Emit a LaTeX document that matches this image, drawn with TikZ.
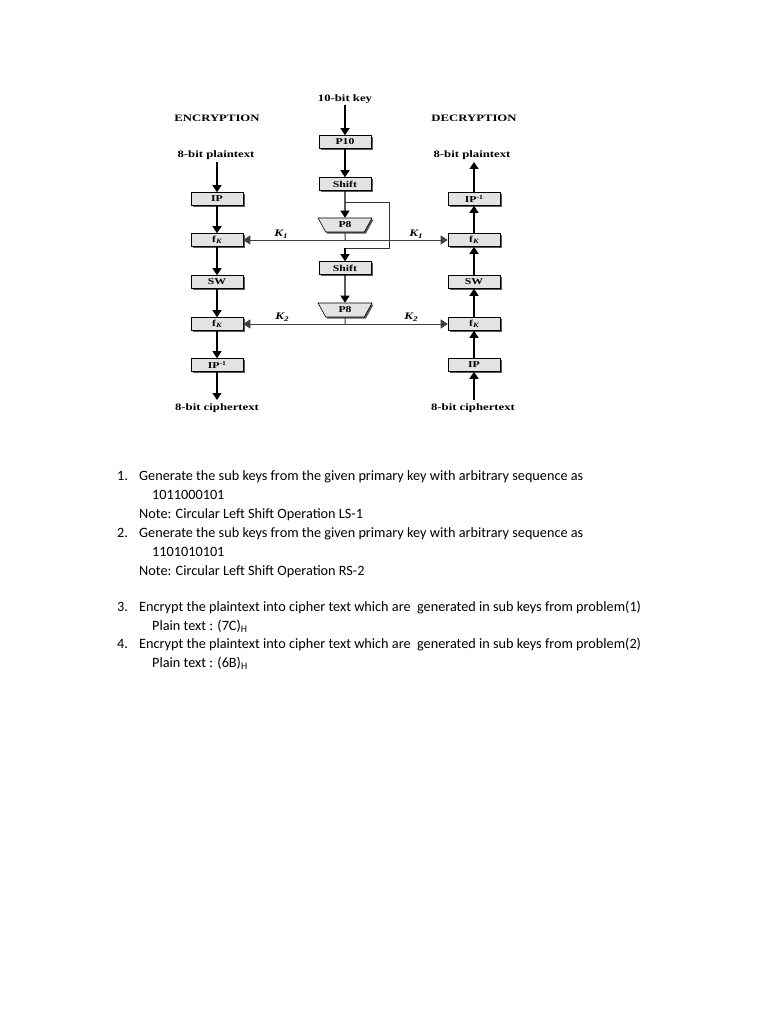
\documentclass[tikz,border=0pt]{standalone}
\usepackage{fontspec}
\setmainfont{Carlito}
\newfontfamily\diagfont[FakeStretch=1.3]{Liberation Serif}
\usetikzlibrary{arrows.meta,shapes.geometric,shadows}
\tikzset{
  blk/.style={draw=black, line width=0.6pt, fill=gray!22, minimum width=52pt, minimum height=13pt, inner sep=0pt,
    font=\diagfont\fontsize{9}{10}\selectfont\bfseries,
    drop shadow={shadow xshift=1.6pt, shadow yshift=-1.6pt, fill=black!65, opacity=1}},
  trap/.style={blk, trapezium, shape border rotate=180, trapezium angle=67, minimum width=54pt, minimum height=14pt, trapezium stretches=true},
  lbl/.style={font=\diagfont\fontsize{9.8}{11}\selectfont\bfseries, inner sep=1pt},
  klbl/.style={font=\diagfont\fontsize{10}{11}\selectfont\bfseries\itshape, inner sep=0pt},
  arr/.style={line width=1.3pt, -{Triangle[width=9pt,length=7pt]}},
  kline/.style={line width=0.9pt, draw=black!75, -{Triangle[width=9pt,length=7pt]}},
  plain/.style={line width=1pt, draw=black!80},
  txt/.style={font=\fontsize{14.25}{16}\selectfont, anchor=base west, inner sep=0pt}
}
\newcommand{\ksub}[1]{\textit{K}\raisebox{-1.5pt}{\fontsize{7}{8}\selectfont #1}}
\newcommand{\fk}{f\raisebox{-1.5pt}{\fontsize{6.5}{7}\selectfont\itshape K}}
\begin{document}
\begin{tikzpicture}[x=1pt,y=-1pt]
\useasboundingbox[fill=white] (0,0) rectangle (768,1024);
% headings
\node[lbl] (enc) at (217,118) {ENCRYPTION};
\node[lbl] (dec) at (474,118) {DECRYPTION};
\node[lbl] (key) at (345,99) {10-bit key};
\node[lbl] (ptL) at (216,155) {8-bit plaintext};
\node[lbl] (ptR) at (472,155) {8-bit plaintext};
\node[lbl] (ctL) at (217,408) {8-bit ciphertext};
\node[lbl] (ctR) at (473,408) {8-bit ciphertext};
% left column
\node[blk] (ipL) at (217,199) {IP};
\node[blk] (fk1L) at (217,240) {\fk};
\node[blk] (swL) at (217,282) {SW};
\node[blk] (fk2L) at (217,324) {\fk};
\node[blk] (ipiL) at (217,365) {IP\raisebox{2.5pt}{\fontsize{6}{7}\selectfont -1}};
% middle column
\node[blk] (p10) at (345,142) {P10};
\node[blk] (sh1) at (345,184) {Shift};
\node[trap] (p8a) at (345,225) {P8};
\node[blk] (sh2) at (345,268) {Shift};
\node[trap] (p8b) at (345,310) {P8};
% right column
\node[blk] (ipiR) at (474,199) {IP\raisebox{2.5pt}{\fontsize{6}{7}\selectfont -1}};
\node[blk] (fk1R) at (474,240) {\fk};
\node[blk] (swR) at (474,282) {SW};
\node[blk] (fk2R) at (474,324) {\fk};
\node[blk] (ipR) at (474,365) {IP};
% coordinates
\coordinate (j1) at (345,240);
\coordinate (j2) at (345,324);
\coordinate (l0) at (345,203);
\coordinate (lA) at (389,203);
\coordinate (lB) at (389,248);
\coordinate (lC) at (345,248);
\coordinate (ctLend) at (217,400);
\coordinate (ctRstart) at (474,400);
\coordinate (ptRend) at (474,162);
\coordinate (ptLstart) at (217,162);
% left arrows
\draw[arr] (ptLstart) -- (ipL.north);
\draw[arr] (ipL.south) -- (fk1L.north);
\draw[arr] (fk1L.south) -- (swL.north);
\draw[arr] (swL.south) -- (fk2L.north);
\draw[arr] (fk2L.south) -- (ipiL.north);
\draw[arr] (ipiL.south) -- (ctLend);
% middle arrows
\draw[arr] (key.south) -- (p10.north);
\draw[arr] (p10.south) -- (sh1.north);
\draw[arr] (sh1.south) -- (p8a.north);
\draw[plain] (l0) -- (lA) -- (lB) -- (lC);
\draw[arr] (lC) -- (sh2.north);
\draw[arr] (sh2.south) -- (p8b.north);
\draw[plain] (p8a.south) -- (j1);
\draw[plain] (p8b.south) -- (j2);
\draw[kline] (j1) -- (fk1L.east);
\draw[kline] (j1) -- (fk1R.west);
\draw[kline] (j2) -- (fk2L.east);
\draw[kline] (j2) -- (fk2R.west);
% right arrows
\draw[arr] (ctRstart) -- (ipR.south);
\draw[arr] (ipR.north) -- (fk2R.south);
\draw[arr] (fk2R.north) -- (swR.south);
\draw[arr] (swR.north) -- (fk1R.south);
\draw[arr] (fk1R.north) -- (ipiR.south);
\draw[arr] (ipiR.north) -- (ptRend);
% K labels
\node[klbl] (k1L) at (281,234) {\ksub{1}};
\node[klbl] (k1R) at (416,234) {\ksub{1}};
\node[klbl] (k2L) at (282,317) {\ksub{2}};
\node[klbl] (k2R) at (411,317) {\ksub{2}};
% text
\node[txt] (n1) at (117,480) {1.};
\node[txt] (t1) at (139,480) {Generate the sub keys from the given primary key with arbitrary sequence as};
\node[txt] (t1b) at (152,499) {1011000101};
\node[txt] (t1c) at (139,518) {Note: Circular Left Shift Operation LS-1};
\node[txt] (n2) at (117,537) {2.};
\node[txt] (t2) at (139,537) {Generate the sub keys from the given primary key with arbitrary sequence as};
\node[txt] (t2b) at (152,556) {1101010101};
\node[txt] (t2c) at (139,575) {Note: Circular Left Shift Operation RS-2};
\node[txt] (n3) at (117,611) {3.};
\node[txt] (t3) at (139,611) {Encrypt the plaintext into cipher text which are\ \ generated in sub keys from problem(1)};
\node[txt] (t3b) at (152,630) {Plain text : (7C)\textsubscript{H}};
\node[txt] (n4) at (117,648) {4.};
\node[txt] (t4) at (139,648) {Encrypt the plaintext into cipher text which are\ \ generated in sub keys from problem(2)};
\node[txt] (t4b) at (152,667) {Plain text : (6B)\textsubscript{H}};
\end{tikzpicture}
\end{document}
